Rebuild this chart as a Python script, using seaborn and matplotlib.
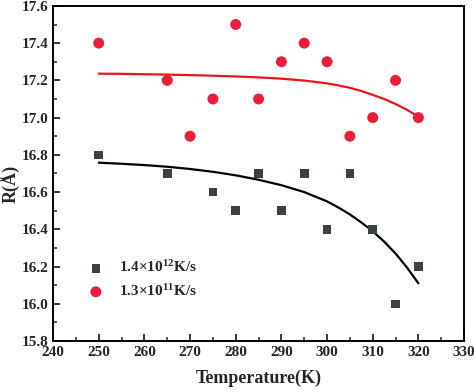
import numpy as np
import matplotlib
matplotlib.use("Agg")
import matplotlib.pyplot as plt
import seaborn as sns
from matplotlib.ticker import MultipleLocator, FormatStrFormatter

# Data
temp_fast = [250, 265, 275, 280, 285, 290, 295, 300, 305, 310, 315, 320]
r_fast = [16.8, 16.7, 16.6, 16.5, 16.7, 16.5, 16.7, 16.4, 16.7, 16.4, 16.0, 16.2]

temp_slow = [250, 265, 270, 275, 280, 285, 290, 295, 300, 305, 310, 315, 320]
r_slow = [17.4, 17.2, 16.9, 17.1, 17.5, 17.1, 17.3, 17.4, 17.3, 16.9, 17.0, 17.2, 17.0]

# fitted curves
fit_t = [250, 255, 260, 265, 270, 275, 280, 285, 290, 295, 300, 302.5, 305,
         307.5, 310, 312.5, 315, 317.5, 320]
fit_fast = [16.758, 16.752, 16.745, 16.736, 16.724, 16.709, 16.69, 16.666, 16.637,
            16.6, 16.55, 16.517, 16.48, 16.437, 16.39, 16.334, 16.27, 16.195, 16.11]
fit_slow = [17.236, 17.235, 17.233, 17.231, 17.228, 17.225, 17.221, 17.216, 17.209,
            17.199, 17.184, 17.173, 17.16, 17.143, 17.122, 17.1, 17.073, 17.042, 17.005]

labels = ["1.4×10$^{12}$K/s", "1.3×10$^{11}$K/s"]

sns.set_style("ticks")
plt.rcParams['font.family'] = ['Liberation Serif', 'DejaVu Serif']
plt.rcParams['font.weight'] = 'bold'
plt.rcParams['mathtext.fontset'] = 'custom'
plt.rcParams['mathtext.rm'] = 'Liberation Serif:bold'
plt.rcParams['mathtext.bf'] = 'Liberation Serif:bold'
plt.rcParams['mathtext.default'] = 'bf'

fig = plt.figure(figsize=(4.74, 3.92), dpi=100)
ax = fig.add_axes([0.112, 0.130, 0.867, 0.855])

red = '#ee1c3a'
dark = '#3c4242'

sns.lineplot(x=fit_t, y=fit_fast, color='black', linewidth=1.6, ax=ax)
sns.lineplot(x=fit_t, y=fit_slow, color='#e8141e', linewidth=1.6, ax=ax)
sns.scatterplot(x=temp_fast, y=r_fast, marker='s', s=38, color=dark,
                edgecolor='none', label=labels[0], ax=ax, zorder=3)
sns.scatterplot(x=temp_slow, y=r_slow, marker='o', s=62, color=red,
                edgecolor='none', label=labels[1], ax=ax, zorder=3)

ax.set_xlim(240, 330)
ax.set_ylim(15.8, 17.6)
ax.xaxis.set_major_locator(MultipleLocator(10))
ax.xaxis.set_minor_locator(MultipleLocator(5))
ax.yaxis.set_major_locator(MultipleLocator(0.2))
ax.yaxis.set_minor_locator(MultipleLocator(0.1))
ax.yaxis.set_major_formatter(FormatStrFormatter('%.1f'))
ax.tick_params(which='major', direction='in', length=5, width=1.3, labelsize=11)
ax.tick_params(which='minor', direction='in', length=3, width=1.1)
for lab in ax.get_xticklabels() + ax.get_yticklabels():
    lab.set_fontweight('bold')
for sp in ax.spines.values():
    sp.set_linewidth(1.4)
    sp.set_color('black')

ax.set_xlabel('Temperature(K)', fontsize=13, fontweight='bold', labelpad=8)
ax.set_ylabel('R(Å)', fontsize=13, fontweight='bold')
ax.yaxis.set_label_coords(-0.078, 0.47)

ax.legend(loc='lower left', bbox_to_anchor=(0.052, 0.085), frameon=False,
          handlelength=1.0, handletextpad=1.0, labelspacing=0.5,
          prop={'weight': 'bold', 'size': 11})

fig.savefig('out.png', dpi=100)
